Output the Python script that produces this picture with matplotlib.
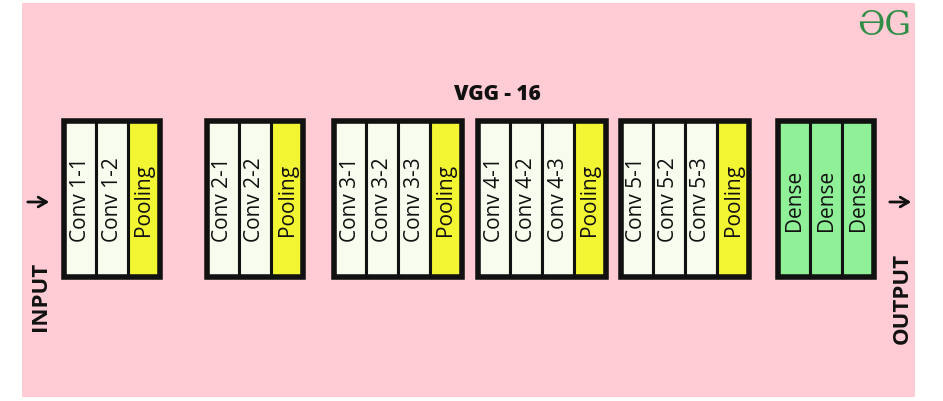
import matplotlib
matplotlib.use("Agg")
import matplotlib.pyplot as plt
from matplotlib.patches import Rectangle

blocks = [
    ["Conv 1-1", "Conv 1-2", "Pooling"],
    ["Conv 2-1", "Conv 2-2", "Pooling"],
    ["Conv 3-1", "Conv 3-2", "Conv 3-3", "Pooling"],
    ["Conv 4-1", "Conv 4-2", "Conv 4-3", "Pooling"],
    ["Conv 5-1", "Conv 5-2", "Conv 5-3", "Pooling"],
    ["Dense", "Dense", "Dense"],
]
block_left = [64, 207, 334, 478, 621, 778]
cell_w = 32
top, bottom = 121, 277
colors = {"Conv": "#F7FCEE", "Pooling": "#F2F531", "Dense": "#90F098"}

fig = plt.figure(figsize=(9.43, 4.01), dpi=100)
ax = fig.add_axes([0, 0, 1, 1])
ax.set_xlim(0, 943)
ax.set_ylim(401, 0)
ax.axis("off")
fig.patch.set_facecolor("white")
ax.add_patch(Rectangle((22, 3), 893, 394, facecolor="#FFCCD5", edgecolor="none"))

fam = ["Open Sans", "DejaVu Sans"]
for left, cells in zip(block_left, blocks):
    for i, lab in enumerate(cells):
        x = left + i * cell_w
        c = colors[lab.split()[0]]
        ax.add_patch(Rectangle((x, top), cell_w, bottom - top, facecolor=c,
                               edgecolor="#111111", linewidth=2.2))
        ax.text(x + cell_w / 2, 200, lab, rotation=90, ha="center", va="center",
                fontsize=15, family=fam, color="#111111")
    ax.add_patch(Rectangle((left, top), cell_w * len(cells), bottom - top, facecolor="none",
                           edgecolor="#111111", linewidth=4))

ax.text(497, 94, "VGG - 16", ha="center", va="center", fontsize=15,
        fontweight="heavy", family=fam, color="#111111")
ax.annotate("", xy=(52, 202), xytext=(25, 202),
            arrowprops=dict(arrowstyle="->,head_length=0.6,head_width=0.35", lw=2, color="#111111"))
ax.annotate("", xy=(914, 202), xytext=(887, 202),
            arrowprops=dict(arrowstyle="->,head_length=0.6,head_width=0.35", lw=2, color="#111111"))
ax.text(40, 296, "INPUT", rotation=90, ha="center", va="center", fontsize=16,
        fontweight="bold", family=fam, color="#111111")
ax.text(902, 298, "OUTPUT", rotation=90, ha="center", va="center", fontsize=16,
        fontweight="bold", family=fam, color="#111111")
ax.text(884, 26, "ƏG", ha="center", va="center", fontsize=24,
        family=["DejaVu Serif"], color="#2F8D46")

fig.savefig("out.png", dpi=100)
